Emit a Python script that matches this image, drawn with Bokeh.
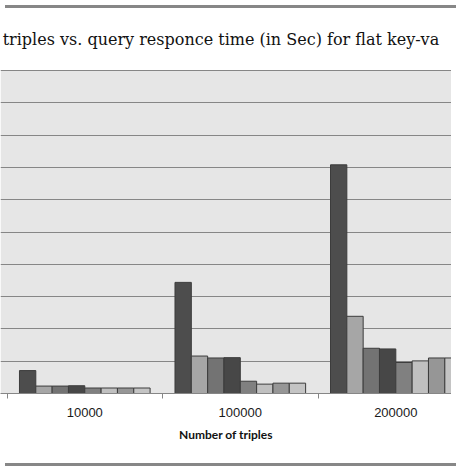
from bokeh.plotting import figure
from bokeh.models import FixedTicker, Range1d, Div, Label, BoxAnnotation
from bokeh.layouts import column
from bokeh.embed import file_html
from bokeh.resources import INLINE

# ---- data ----
categories = ["10000", "100000", "200000"]
series_1 = [0.71, 3.44, 7.08]
series_2 = [0.23, 1.16, 2.39]
series_3 = [0.23, 1.10, 1.40]
series_4 = [0.24, 1.11, 1.38]
series_5 = [0.17, 0.38, 0.96]
series_6 = [0.17, 0.29, 1.01]
series_7 = [0.17, 0.32, 1.10]
series_8 = [0.17, 0.32, 1.10]
series_values = [series_1, series_2, series_3, series_4,
                 series_5, series_6, series_7, series_8]
series_colors = ["#4d4d4d", "#a6a6a6", "#737373", "#474747",
                 "#808080", "#c0c0c0", "#969696", "#c4c4c4"]
grid_ticks = list(range(0, 11))
y_max = 10
title_text = "triples vs. query responce time (in Sec)  for  flat key-va"
x_label = "Number of triples"

# ---- layout ----
W = 451
BORDER = 3
H = 451 - 2 * BORDER
BOTTOM = 65
AREA_TOP = 57            # pixel row (from figure top) where the plot area starts
frame_h = H - BOTTOM
px_per_unit = (frame_h - AREA_TOP) / y_max
Y_TOP = frame_h / px_per_unit
X0, X1 = 0.458, 3.358


def y_at(canvas_y):
    return (frame_h - canvas_y) / px_per_unit


p = figure(width=W, height=H, output_backend="svg", toolbar_location=None,
           x_range=Range1d(X0, X1), y_range=Range1d(0, Y_TOP),
           y_axis_location=None,
           min_border_left=0, min_border_right=0,
           min_border_top=0, min_border_bottom=BOTTOM,
           background_fill_color="white", border_fill_color="white",
           outline_line_color=None)

p.add_layout(BoxAnnotation(bottom=0, top=y_max, fill_color="#e6e6e6",
                           fill_alpha=1, line_color=None, level="image"))

bw = 0.105
for i, (vals, col) in enumerate(zip(series_values, series_colors)):
    xs = [k + 1 + (i - 3.5) * bw for k in range(len(categories))]
    p.vbar(x=xs, top=vals, bottom=0, width=bw, fill_color=col,
           line_color="#3c3c3c", line_width=1)

p.xgrid.visible = False
p.ygrid.ticker = FixedTicker(ticks=grid_ticks)
p.ygrid.grid_line_color = "#868686"
p.ygrid.grid_line_width = 1

ax = p.xaxis[0]
ax.ticker = FixedTicker(ticks=[1, 2, 3], minor_ticks=[0.5, 1.5, 2.5, 3.5])
ax.major_label_overrides = {k + 1: c for k, c in enumerate(categories)}
ax.major_tick_out = 0
ax.major_tick_in = 0
ax.minor_tick_out = 5
ax.minor_tick_in = 0
ax.minor_tick_line_color = "#868686"
ax.axis_line_color = "#868686"
ax.major_label_text_font = "Liberation Sans"
ax.major_label_text_font_size = "13px"
ax.major_label_text_color = "#1a1a1a"
ax.major_label_standoff = 9
ax.axis_label = x_label
ax.axis_label_text_font = "Lato"
ax.axis_label_text_font_style = "bold"
ax.axis_label_text_font_size = "12px"
ax.axis_label_text_color = "#111111"
ax.axis_label_standoff = 7

p.add_layout(Label(x=(X0 + X1) / 2, y=y_at(25.5), text=title_text,
                   text_font="DejaVu Serif", text_font_size="16px",
                   text_color="#111111", text_align="center",
                   text_baseline="alphabetic"))

top_rule = Div(text="", width=W, height=BORDER,
               styles={"background-color": "#878787"})
bottom_rule = Div(text="", width=W, height=BORDER,
                  styles={"background-color": "#878787"})

layout = column(top_rule, p, bottom_rule, spacing=0)

open("out.html", "w").write(file_html(layout, INLINE))
